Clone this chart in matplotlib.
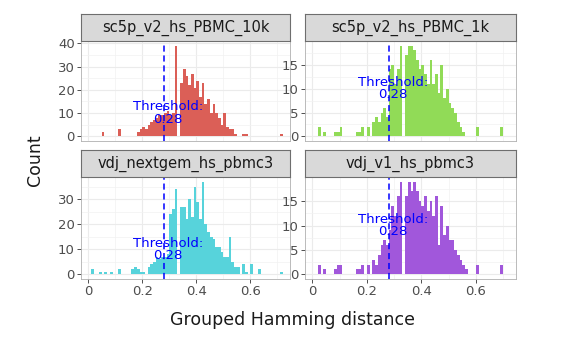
import numpy as np
import matplotlib.pyplot as plt
from matplotlib.ticker import MultipleLocator

# Histogram counts per 0.01-wide bin of grouped Hamming distance (bins start at 0.00)
titles = ["sc5p_v2_hs_PBMC_10k", "sc5p_v2_hs_PBMC_1k",
          "vdj_nextgem_hs_pbmc3", "vdj_v1_hs_pbmc3"]
colors = ["#db5f57", "#91db57", "#57d3db", "#a157db"]
threshold = 0.28
bin_width = 0.01

counts_10k = [0, 0, 0, 0, 0, 2, 0, 0, 0, 0,
              0, 3, 0, 0, 0, 0, 0, 0, 2, 3,
              4, 3, 5, 6, 7, 8, 9, 9, 10, 11,
              9, 10, 39, 0, 23, 29, 26, 22, 27, 21,
              24, 17, 23, 14, 16, 10, 14, 10, 8, 5,
              10, 4, 3, 3, 1, 0, 0, 1, 1, 0,
              0, 0, 0, 0, 0, 0, 0, 0, 0, 0, 0, 1]
counts_1k = [0, 0, 2, 0, 1, 0, 0, 0, 1, 1,
             2, 0, 0, 0, 0, 0, 1, 1, 2, 0,
             2, 0, 3, 4, 3, 5, 6, 4, 14, 15,
             11, 14, 19, 0, 17, 19, 19, 18, 16, 14,
             15, 13, 11, 16, 11, 13, 9, 15, 8, 10,
             7, 6, 5, 3, 2, 1, 0, 0, 0, 0,
             2, 0, 0, 0, 0, 0, 0, 0, 0, 2, 0, 0]
counts_nextgem = [0, 2, 0, 0, 1, 0, 1, 0, 1, 0,
                  0, 2, 0, 0, 0, 0, 2, 3, 2, 1,
                  1, 0, 3, 4, 5, 7, 6, 7, 7, 8,
                  24, 26, 34, 0, 27, 27, 22, 30, 23, 35,
                  29, 22, 37, 20, 17, 15, 14, 11, 11, 9,
                  7, 7, 15, 5, 3, 3, 0, 4, 1, 0,
                  4, 0, 0, 2, 0, 0, 0, 0, 0, 0, 0, 1]
counts_v1 = [0, 0, 2, 0, 1, 0, 0, 0, 1, 2,
             2, 0, 0, 0, 0, 0, 1, 1, 2, 0,
             2, 0, 3, 2, 4, 6, 7, 6, 9, 14,
             12, 16, 19, 0, 16, 19, 17, 19, 17, 15,
             14, 16, 13, 15, 12, 16, 6, 14, 8, 10,
             7, 7, 5, 4, 3, 2, 1, 0, 0, 0,
             2, 0, 0, 0, 0, 0, 0, 0, 0, 2, 0, 0]
all_counts = [counts_10k, counts_1k, counts_nextgem, counts_v1]

W, H = 568, 346


def rect(x0, y0, x1, y1):
    return [x0 / W, 1 - y1 / H, (x1 - x0) / W, (y1 - y0) / H]


# pixel boxes of the panels (left, top, right, bottom) and strip heights
panel_boxes = [(81, 41, 290, 141), (305, 41, 516, 141),
               (81, 177, 290, 279), (305, 177, 516, 279)]
strip_h = 27

fig = plt.figure(figsize=(5.68, 3.46), dpi=100)

for i, (title, color, counts) in enumerate(zip(titles, colors, all_counts)):
    x0, y0, x1, y1 = panel_boxes[i]
    ax = fig.add_axes(rect(x0, y0, x1, y1))
    counts = np.array(counts)
    edges = np.arange(len(counts)) * bin_width
    ax.bar(edges, counts, width=bin_width, align="edge", color=color,
           linewidth=0, zorder=2)
    ax.axvline(threshold, color="blue", linestyle=(0, (4, 2.5)), linewidth=1.1, zorder=3)
    ax.text(threshold + 0.015, 10, "Threshold:\n0.28", color="blue", fontsize=9.5,
            ha="center", va="center", linespacing=0.95, zorder=4)

    ymax = counts.max()
    ax.set_ylim(-0.05 * ymax, 1.05 * ymax)
    ax.set_xlim(-0.027, 0.747)
    step = 10 if i % 2 == 0 else 5
    ax.yaxis.set_major_locator(MultipleLocator(step))
    ax.yaxis.set_minor_locator(MultipleLocator(step / 2))
    ax.xaxis.set_major_locator(MultipleLocator(0.2))
    ax.xaxis.set_minor_locator(MultipleLocator(0.1))
    ax.xaxis.set_major_formatter(lambda v, p: "0" if abs(v) < 1e-9 else f"{v:g}")

    ax.grid(which="major", color="#ebebeb", linewidth=0.8, zorder=0)
    ax.grid(which="minor", color="#f2f2f2", linewidth=0.5, zorder=0)
    ax.set_axisbelow(True)
    for s in ax.spines.values():
        s.set_color("#b0b0b0")
        s.set_linewidth(0.6)
    ax.tick_params(which="major", labelsize=9.5, labelcolor="#4d4d4d", color="#333333",
                   length=3, width=0.6, pad=1.5)
    ax.tick_params(which="minor", length=0)
    if i < 2:
        ax.tick_params(axis="x", labelbottom=False, length=0)

    # facet strip
    sax = fig.add_axes(rect(x0, y0 - strip_h, x1, y0))
    sax.set_facecolor("#d9d9d9")
    sax.set_xticks([])
    sax.set_yticks([])
    for s in sax.spines.values():
        s.set_color("#6e6e6e")
        s.set_linewidth(0.8)
    sax.text(0.5, 0.5, title, ha="center", va="center", fontsize=10.5,
             color="#1a1a1a", transform=sax.transAxes)

fig.text(35 / W, 1 - 160 / H, "Count", rotation=90, ha="center", va="center",
         fontsize=12.5, color="#1a1a1a")
fig.text(293 / W, 1 - 320 / H, "Grouped Hamming distance", ha="center", va="center",
         fontsize=12.5, color="#1a1a1a")

fig.savefig("out.png", dpi=100, facecolor="white")
